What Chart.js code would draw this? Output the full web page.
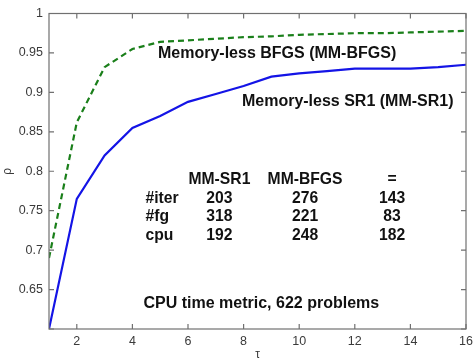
<!DOCTYPE html>
<html>
<head>
<meta charset="utf-8">
<script src="https://cdn.jsdelivr.net/npm/chart.js@4/dist/chart.umd.min.js"></script>
<style>
html,body{margin:0;padding:0;background:#fff;}
#wrap{width:474px;height:362px;position:relative;}
</style>
</head>
<body>
<div id="wrap"><canvas id="c" width="474" height="362"></canvas></div>
<script>
const tau = [1,2,3,4,5,6,7,8,9,10,11,12,13,14,15,16];
const mmSR1 = [0.600,0.765,0.820,0.855,0.870,0.888,0.898,0.908,0.920,0.924,0.927,0.930,0.930,0.930,0.932,0.935];
const mmBFGS = [0.690,0.862,0.932,0.955,0.964,0.966,0.968,0.970,0.971,0.973,0.974,0.975,0.975,0.976,0.977,0.978];
const xTicks = [2,4,6,8,10,12,14,16];
const yTicks = [0.6,0.65,0.7,0.75,0.8,0.85,0.9,0.95,1];
const tableCols = ['MM-SR1','MM-BFGS','='];
const tableRows = ['#iter','#fg','cpu'];
const tableVals = [[203,276,143],[318,221,83],[192,248,182]];
const labelBFGS = 'Memory-less BFGS (MM-BFGS)';
const labelSR1 = 'Memory-less SR1 (MM-SR1)';
const footNote = 'CPU time metric, 622 problems';

const FONT = '"Liberation Sans", Arial, sans-serif';
const AXC = '#707070';

const annot = {
  id:'annot',
  afterDatasetsDraw(chart){
    const {ctx, scales:{x,y}, chartArea:a} = chart;
    ctx.save();
    ctx.strokeStyle = AXC; ctx.lineWidth = 1.2;
    ctx.strokeRect(a.left, a.top, a.right-a.left, a.bottom-a.top);
    const tl = 5;
    ctx.beginPath();
    xTicks.forEach(v=>{const px=x.getPixelForValue(v);ctx.moveTo(px,a.bottom);ctx.lineTo(px,a.bottom-tl);ctx.moveTo(px,a.top);ctx.lineTo(px,a.top+tl);});
    yTicks.forEach(v=>{const py=y.getPixelForValue(v);ctx.moveTo(a.left,py);ctx.lineTo(a.left+tl,py);ctx.moveTo(a.right,py);ctx.lineTo(a.right-tl,py);});
    ctx.stroke();
    ctx.fillStyle = '#111';
    ctx.textBaseline = 'middle';
    ctx.textAlign = 'left';
    ctx.font = 'bold 16px '+FONT;
    ctx.fillText(labelBFGS, x.getPixelForValue(4.92), y.getPixelForValue(0.949));
    ctx.fillText(labelSR1, x.getPixelForValue(7.94), y.getPixelForValue(0.888));
    ctx.font = 'bold 15.7px '+FONT;
    const colX = [7.13,10.21,13.34];
    const rowY = [0.765,0.742,0.718];
    ctx.textAlign = 'center';
    tableCols.forEach((c,i)=>ctx.fillText(c, x.getPixelForValue(colX[i]), y.getPixelForValue(0.789)));
    tableRows.forEach((r,j)=>{
      ctx.textAlign='left';
      ctx.fillText(r, x.getPixelForValue(4.47), y.getPixelForValue(rowY[j]));
      ctx.textAlign='center';
      tableVals[j].forEach((v,i)=>ctx.fillText(String(v), x.getPixelForValue(colX[i]), y.getPixelForValue(rowY[j])));
    });
    ctx.textAlign='left';
    ctx.font = 'bold 16px '+FONT;
    ctx.fillText(footNote, x.getPixelForValue(4.40), y.getPixelForValue(0.632));
    ctx.restore();
  }
};

new Chart(document.getElementById('c'), {
  type:'line',
  data:{
    labels: tau,
    datasets:[
      {label:'MM-BFGS', data: tau.map((t,i)=>({x:t,y:mmBFGS[i]})), borderColor:'#1a7f1a', borderWidth:2.2, borderDash:[6,4], pointRadius:0, tension:0, fill:false},
      {label:'MM-SR1', data: tau.map((t,i)=>({x:t,y:mmSR1[i]})), borderColor:'#1414e6', borderWidth:2.2, pointRadius:0, tension:0, fill:false}
    ]
  },
  options:{
    responsive:false, animation:false,
    layout:{padding:{left:0,right:8,top:7,bottom:0}},
    plugins:{legend:{display:false}, tooltip:{enabled:false}},
    scales:{
      x:{type:'linear', min:1, max:16,
        afterBuildTicks(s){s.ticks = xTicks.map(v=>({value:v}));},
        afterFit(s){s.height = 33; s.paddingRight = 0;},
        grid:{display:false, drawTicks:false, tickLength:0}, border:{display:false},
        ticks:{color:'#3a3a3a', font:{family:FONT,size:12.5}, padding:5, maxRotation:0, autoSkip:false},
        title:{display:true, text:'τ', color:'#3a3a3a', font:{family:FONT,size:12}, padding:{top:0,bottom:0}}
      },
      y:{type:'linear', min:0.6, max:1,
        afterBuildTicks(s){s.ticks = yTicks.map(v=>({value:v}));},
        afterFit(s){s.width = 49;},
        grid:{display:false, drawTicks:false, tickLength:0}, border:{display:false},
        ticks:{color:'#3a3a3a', font:{family:FONT,size:12.5}, padding:6, autoSkip:false,
          callback:(v)=> v===0.6 ? '' : String(+v.toFixed(2))},
        title:{display:true, text:'ρ', color:'#3a3a3a', font:{family:FONT,size:12}, padding:{top:0,bottom:0}}
      }
    }
  },
  plugins:[annot]
});
</script>
</body>
</html>
